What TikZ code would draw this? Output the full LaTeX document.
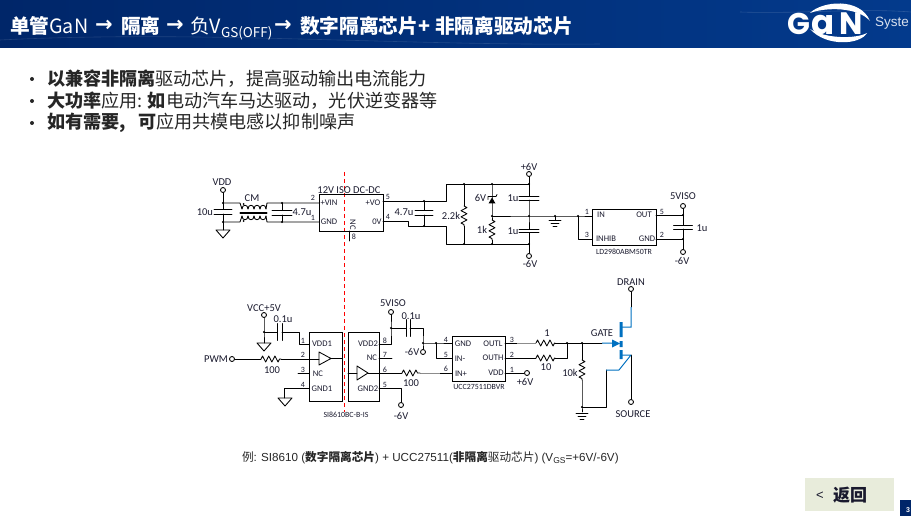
\documentclass[tikz,border=0pt]{standalone}
\usepackage{fontspec}
\setmainfont{Noto Sans CJK SC}
\newfontfamily\sch{Carlito}
\newfontfamily\ari{Liberation Sans}
\newfontfamily\popf{Poppins}
\newfontfamily\djv{DejaVu Sans}
\usetikzlibrary{decorations.pathmorphing}
\definecolor{navyA}{RGB}{0,38,105}
\definecolor{navyB}{RGB}{3,58,140}
\definecolor{gblue}{RGB}{0,112,192}
\definecolor{ink}{RGB}{25,25,45}
\definecolor{boxbg}{RGB}{232,236,219}
\newcounter{tn}
\newcommand\lb[3][]{\stepcounter{tn}\node[txt,#1] (t\arabic{tn}) at (#2) {#3};}
\newcommand\hplates[4]{\draw[w] (#1-#4,#2) -- (#1+#4,#2) (#1-#4,#3) -- (#1+#4,#3);}
\newcommand\vplates[4]{\draw[w] (#1,#3-#4) -- (#1,#3+#4) (#2,#3-#4) -- (#2,#3+#4);}
\newcommand\gndT[2]{\draw[w] (#1-7,#2) -- (#1+7,#2) -- (#1,#2+8) -- cycle;}
\newcommand\gndB[2]{\draw[w] (#1-6,#2) -- (#1+6,#2) (#1-4,#2+3) -- (#1+4,#2+3) (#1-2,#2+6) -- (#1+2,#2+6);}
\tikzset{
  x=1pt,y=-1pt,
  w/.style={line width=.85pt,black,line cap=round,line join=round},
  bw/.style={line width=1pt,gblue},
  gw/.style={line width=1pt,black!45},
  res/.style={decorate,decoration={zigzag,segment length=6.2pt,amplitude=3pt}},
  txt/.style={inner sep=0,outer sep=0,text=ink,font=\sch\fontsize{10.5}{10.5}\selectfont},
  pin/.style={txt,font=\sch\fontsize{8}{8}\selectfont},
  sm/.style={txt,font=\sch\fontsize{8.6}{8.6}\selectfont},
  term/.style={circle,draw,fill=white,inner sep=0,minimum size=5pt,line width=.85pt},
  ic/.style={draw,line width=.85pt,fill=white,inner sep=0},
  part/.style={txt,font=\sch\fontsize{7.9}{8}\selectfont},
  harrow/.style={inner sep=0,outer sep=0,anchor=west,text=white,font=\djv\bfseries\fontsize{21}{21}\selectfont},
  head/.style={inner sep=0,outer sep=0,anchor=west,text=white,font=\bfseries\fontsize{19.7}{20}\selectfont},
  bul/.style={inner sep=0,outer sep=0,anchor=west,text=black!85,font=\fontsize{18.1}{19}\selectfont},
  cap1/.style={inner sep=0,outer sep=0,anchor=west,text=black!85,font=\ari\fontsize{11.65}{12}\selectfont},
}
\begin{document}
\begin{tikzpicture}
\useasboundingbox (0,0) rectangle (911,516);
\clip (0,0) rectangle (911,516);
% header
\shade[left color=navyA,right color=navyB] (0,0) rectangle (911,48);
\draw[white,opacity=.12,line width=.6pt] (0,40) .. controls (200,30) and (400,46) .. (600,44);
\draw[white,opacity=.15,line width=.6pt] (740,12) .. controls (800,14) and (860,8) .. (911,12);
\node[head] (h1) at (10,26) {单管\mdseries GaN};
\node[harrow] (h2) at (95,26) {→};
\node[head] (h3) at (121,26) {隔离};
\node[harrow] (h4) at (166,26) {→};
\node[head] (h5) at (190,26) {\mdseries 负V};
\node[head,font=\fontsize{13.5}{13.5}\selectfont] (h6) at (221,33) {GS(OFF)};
\node[harrow] (h7) at (274,26) {→};
\node[head] (h8) at (300,26) {数字隔离芯片+};
\node[head] (h9) at (435,26) {非隔离驱动芯片};
% logo
\fill[white] (810,13) .. controls (822,1) and (860,-3) .. (870,21) .. controls (858,7) and (826,7) .. (810,13) -- cycle;
\fill[white] (810,29) .. controls (826,47) and (860,45) .. (867,33) .. controls (856,39) and (826,39) .. (810,29) -- cycle;
\node[txt,text=white,font=\popf\bfseries\fontsize{30}{30}\selectfont] (lg) at (799,24) {G};
\node[txt,text=white,font=\popf\bfseries\fontsize{34}{34}\selectfont] (la) at (823,25) {a};
\node[txt,text=white,font=\popf\bfseries\fontsize{31}{31}\selectfont] (ln) at (851,24) {N};
\node[inner sep=0,anchor=west,text=white!85!navyB,font=\ari\fontsize{13.5}{14}\selectfont] (ls) at (875,23) {Syste};
% bullets
\foreach \yy/\nm in {79/b1,101/b2,123/b3} \fill[black!85] (32,\yy) circle (2pt);
\node[bul] (l1) at (47,79) {\bfseries 以兼容非隔离\mdseries 驱动芯片，提高驱动输出电流能力};
\node[bul] (l2) at (47,101) {\bfseries 大功率\mdseries 应用: \bfseries 如\mdseries 电动汽车马达驱动，光伏逆变器等};
\node[bul] (l3) at (47,123) {\bfseries 如有需要,\ \ \ 可\mdseries 应用共模电感以抑制噪声};
% red isolation line
\draw[red,line width=1pt,dash pattern=on 4pt off 3pt] (344,172) -- (344,412);
% ---------- top: VDD, CM, DC-DC
\node[term] (vdd) at (223,190) {};
\coordinate (a1) at (223,203); \coordinate (a2) at (223,222); \coordinate (a3) at (223,230);
\coordinate (c1t) at (223,209); \coordinate (c1b) at (223,214);
\draw[w] (vdd) -- (c1t) (c1b) -- (a3);
\hplates{223}{209}{214}{9}
\gndT{223}{230}
\lb{222,182}{VDD} \lb[anchor=east]{213,212}{10u}
\lb{252,198.5}{CM}
\coordinate (cml1) at (240,203); \coordinate (cml2) at (240,222);
\coordinate (cmr1) at (267,203); \coordinate (cmr2) at (267,222);
\coordinate (p2) at (319,203); \coordinate (p1) at (319,222);
\draw[w] (a1) -- (cml1) -- (242,209);
\foreach \i in {0,1,2,3} \draw[w] (242+6*\i,209) .. controls (242+6*\i,204) and (248+6*\i,204) .. (248+6*\i,209);
\draw[w] (266,209) -- (cmr1) -- (p2);
\draw[w] (a2) -- (cml2) -- (242,216);
\foreach \i in {0,1,2,3} \draw[w] (242+6*\i,216) .. controls (242+6*\i,221) and (248+6*\i,221) .. (248+6*\i,216);
\draw[w] (266,216) -- (cmr2) -- (p1);
\draw[w] (240,212) -- (267,212) (240,213.6) -- (267,213.6);
\fill (243.5,204) circle (1pt) (243.5,221) circle (1pt);
\coordinate (c2t) at (282,203); \coordinate (c2b) at (282,222);
\draw[w] (c2t) -- (282,210) (282,215) -- (c2b);
\hplates{282}{210}{215}{10}
\lb{302,212}{4.7u}
\node[ic,minimum width=64pt,minimum height=37pt,fill=none] (dc) at (351,212.5) {};
\lb{349,190}{12V ISO DC-DC}
\lb[sm]{329,203}{+VIN} \lb[sm]{329,222}{GND} \lb[sm]{373,203}{+VO} \lb[sm]{377,222}{0V}
\lb[sm,rotate=-90]{353,225}{NC}
\lb[pin]{313,198}{2} \lb[pin]{313,218}{1} \lb[pin]{388,197}{5} \lb[pin]{388,217}{4} \lb[pin]{354,237}{8}
\coordinate (p8a) at (349,231); \coordinate (p8b) at (349,241);
\draw[w] (p8a) -- (p8b);
% DC-DC outputs
\coordinate (o5) at (383,201); \coordinate (o4) at (383,221);
\coordinate (c3t) at (424,201); \coordinate (c3b) at (424,226);
\coordinate (rt0) at (446,201); \coordinate (rb0) at (446,226);
\coordinate (rt) at (446,184); \coordinate (rb) at (446,244);
\coordinate (tp) at (529,184); \coordinate (bt) at (529,244);
\draw[w] (o5) -- (rt0) -- (rt) -- (tp);
\draw[w] (o4) -- (408,221) -- (408,226) -- (rb0) -- (rb) -- (bt);
\draw[w] (c3t) -- (424,210) (424,215) -- (c3b);
\hplates{424}{210}{215}{9}
\lb{404,212}{4.7u}
% 2.2k
\coordinate (r22t) at (464,184); \coordinate (r22a) at (464,206); \coordinate (r22b) at (464,226); \coordinate (r22c) at (464,244);
\draw[w] (r22t) -- (r22a) (r22b) -- (r22c);
\draw[w,res] (r22a) -- (r22b);
\lb{451,216}{2.2k}
% zener + 1k
\coordinate (zt) at (492,184); \coordinate (zm) at (492,216); \coordinate (zb) at (492,244);
\coordinate (r1a) at (492,220); \coordinate (r1b) at (492,240);
\draw[w] (zt) -- (zm) -- (r1a) (r1b) -- (zb);
\draw[w,res] (r1a) -- (r1b);
\fill (488.5,203.5) -- (495.5,203.5) -- (492,197.5) -- cycle;
\draw[w] (488,199.5) -- (488,196.5) -- (496,196.5) -- (497,194.5);
\lb{480.5,198}{6V} \lb{482,230}{1k}
% rails
\node[term] (p6) at (529,174) {}; \node[term] (m6) at (529,256) {};
\coordinate (mid) at (529,216);
\draw[w] (p6) -- (529,196) (529,200) -- (mid) -- (529,229) (529,232.5) -- (m6);
\hplates{529}{196}{200}{10}
\hplates{529}{229}{232.5}{10}
\lb{529,166.5}{+6V} \lb{530,264}{-6V} \lb{513,198}{1u} \lb{513,231}{1u}
% LDO
\coordinate (gj) at (555,216); \coordinate (gs) at (555,220); \coordinate (inj) at (578,216);
\coordinate (in1) at (592,216); \coordinate (in3a) at (578,239); \coordinate (in3) at (592,239);
\draw[w] (zm) -- (mid) -- (gj) -- (inj) -- (in1) (inj) -- (in3a) -- (in3) (gj) -- (gs);
\gndB{555}{220}
\node[ic,minimum width=64pt,minimum height=36pt,fill=none] (ldo) at (624,227) {};
\lb[sm]{601,215}{IN} \lb[sm]{606,239}{INHIB} \lb[sm]{644,215}{OUT} \lb[sm]{647,239}{GND}
\lb[pin]{587,212}{1} \lb[pin]{587,235}{3} \lb[pin]{662,212}{5} \lb[pin]{662,235}{2}
\lb[part]{624,252}{LD2980ABM50TR}
\node[term] (v5a) at (683,206) {}; \node[term] (m6b) at (683,252) {};
\coordinate (o5b) at (656,215); \coordinate (o2b) at (656,239); \coordinate (jr1) at (683,215); \coordinate (jr2) at (683,239);
\draw[w] (o5b) -- (jr1) (o2b) -- (jr2);
\draw[w] (v5a) -- (683,225) (683,229) -- (m6b);
\hplates{683}{225}{229}{9.5}
\lb{683,196}{5VISO} \lb{702,228}{1u} \lb{682,261}{-6V}
% ---------- bottom: SI8610
\node[ic,minimum width=33pt,minimum height=69pt,fill=none] (s1) at (325.5,366.5) {};
\node[ic,minimum width=31pt,minimum height=69pt,fill=none] (s2) at (363.5,366.5) {};
\node[term] (vcc) at (264,315) {};
\coordinate (vj) at (264,332); \coordinate (vg) at (264,343);
\coordinate (cxl) at (277,332); \coordinate (cxr) at (282,332); \coordinate (vw) at (299,332); \coordinate (vw2) at (299,344); \coordinate (vp) at (309,344);
\draw[w] (vcc) -- (vj) -- (vg) (vj) -- (cxl) (cxr) -- (vw) -- (vw2) -- (vp);
\vplates{277}{282}{332}{8.5}
\gndT{264}{343}
\lb{264,308}{VCC+5V} \lb{283,319}{0.1u}
\node[term] (pwm) at (232,359) {};
\coordinate (pr1) at (261,359); \coordinate (pr2) at (281,359); \coordinate (bi) at (319,359);
\draw[w] (pwm) -- (pr1) (pr2) -- (bi);
\draw[w,res] (pr1) -- (pr2);
\lb{216,359}{PWM} \lb{272,370}{100}
\draw[w] (319,352) -- (331,358.5) -- (319,365) -- cycle;
\coordinate (bo) at (331,358.5); \coordinate (bo2) at (342,358.5);
\draw[w] (bo) -- (bo2);
\coordinate (n3a) at (298,373); \coordinate (n3b) at (309,373); \draw[w] (n3a) -- (n3b);
\coordinate (g4) at (309,388); \coordinate (g4a) at (284,388); \coordinate (g4b) at (284,398);
\draw[w] (g4) -- (g4a) -- (g4b);
\gndT{285}{398}
\lb[sm]{322,344}{VDD1} \lb[sm]{318,374}{NC} \lb[sm]{322,389}{GND1}
\lb[sm]{368,344}{VDD2} \lb[sm]{372,358}{NC} \lb[sm]{368,389}{GND2}
\lb[pin]{303,341}{1} \lb[pin]{303,355}{2} \lb[pin]{303,370}{3} \lb[pin]{303,385}{4}
\lb[pin]{385,341}{8} \lb[pin]{385,355}{7} \lb[pin]{385,370}{6} \lb[pin]{385,385}{5}
\lb[part]{346,415}{SI8610BC-B-IS}
% buffer 2
\coordinate (b2i) at (348,373); \coordinate (b2o) at (368,373);
\draw[w] (b2i) -- (357,373);
\draw[w] (357,366) -- (368,373) -- (357,380) -- cycle;
\coordinate (r6a) at (402,373); \coordinate (r6b) at (420,373); \coordinate (r6c) at (440,373); \coordinate (in6) at (452,373);
\draw[w] (b2o) -- (r6a) (r6c) -- (in6);
\draw[gw] (r6b) -- (r6c);
\draw[w,res] (r6a) -- (r6b);
\lb{411,383}{100}
% pin 8
\node[term] (v5b) at (391,312) {};
\coordinate (p8i) at (379,344); \coordinate (p8j) at (391,344); \coordinate (cj) at (391,328);
\coordinate (cyl) at (406,328); \coordinate (cyr) at (410,328); \coordinate (cyw) at (423,328); \coordinate (cyj) at (423,343);
\node[term] (m6c) at (423,352) {};
\coordinate (g45) at (436,343); \coordinate (g5a) at (436,358); \coordinate (g5) at (452,358); \coordinate (g4i) at (452,343);
\draw[w] (p8i) -- (p8j) -- (cj) -- (v5b) (cj) -- (cyl) (cyr) -- (cyw) -- (cyj) -- (m6c) (cyj) -- (g45) -- (g4i) (g45) -- (g5a) -- (g5);
\vplates{406}{410}{328}{8.5}
\lb{393,303}{5VISO} \lb{411,316}{0.1u} \lb{412,352}{-6V}
\coordinate (n7a) at (379,358); \coordinate (n7b) at (392,358); \draw[w] (n7a) -- (n7b);
\node[term] (m6d) at (401,405) {};
\coordinate (g2a) at (379,388); \coordinate (g2b) at (401,388);
\draw[w] (g2a) -- (g2b) -- (m6d);
\lb{401,416}{-6V}
% UCC27511
\node[ic,minimum width=53pt,minimum height=45pt,fill=none] (ucc) at (478.5,358.5) {};
\lb[sm]{463,344}{GND} \lb[sm]{460,359}{IN-} \lb[sm]{461,374}{IN+} \lb[sm]{493,344}{OUTL} \lb[sm]{493,358}{OUTH} \lb[sm]{496,373}{VDD}
\lb[pin]{446,340}{4} \lb[pin]{446,355}{5} \lb[pin]{446,369}{6} \lb[pin]{512,340}{3} \lb[pin]{512,355}{2} \lb[pin]{512,370}{1}
\lb[part]{479,387}{UCC27511DBVR}
\coordinate (ol) at (505,343); \coordinate (olg) at (517,343); \coordinate (r7a) at (536,343); \coordinate (r7b) at (555,343); \coordinate (mj) at (567,343); \coordinate (gj2) at (582,343); \coordinate (gb) at (602,343); \coordinate (gt) at (613,343);
\coordinate (oh) at (505,358); \coordinate (r8a) at (536,358); \coordinate (r8b) at (555,358); \coordinate (mj2) at (567,358);
\draw[w] (ol) -- (olg) (r7b) -- (gb) (oh) -- (r8a) (r8b) -- (mj2) -- (mj);
\draw[gw] (olg) -- (r7a);
\draw[w,res] (r7a) -- (r7b);
\draw[w,res] (r8a) -- (r8b);
\lb{547,333}{1} \lb{546,367}{10}
\node[term] (p6b) at (527,373) {};
\coordinate (o1) at (505,373); \draw[w] (o1) -- (p6b);
\lb{525,382}{+6V}
\coordinate (r10a) at (582,360); \coordinate (r10b) at (582,380); \coordinate (sj) at (582,407); \coordinate (sg) at (582,412); \coordinate (sw) at (606,407); \coordinate (swt) at (606,370);
\draw[w] (gj2) -- (r10a) (r10b) -- (sj) -- (sg) (sj) -- (sw) -- (swt);
\draw[w,res] (r10a) -- (r10b);
\lb{570,373}{10k}
\gndB{582}{413}
% FET
\node[term] (dr) at (631,289) {}; \node[term] (so) at (631,402) {};
\coordinate (dk) at (631,307); \coordinate (db) at (631,327); \coordinate (dc2) at (621,327);
\coordinate (sb) at (631,355); \coordinate (sc) at (621,355); \coordinate (dg) at (619,370);
\draw[w] (dr) -- (dk) (sb) -- (so);
\draw[bw] (dk) -- (db) -- (dc2) (sb) -- (sc) (swt) -- (dg) -- (sb) (gb) -- (gt);
\fill[gblue] (612,339.5) -- (620,343.5) -- (612,347.5) -- cycle;
\fill[gblue] (619.5,322) rectangle (622.5,337) (619.5,341) rectangle (622.5,347) (619.5,350) rectangle (622.5,359);
\lb{602,333}{GATE} \lb{631,282}{DRAIN} \lb{633,414}{SOURCE}
% junctions
\foreach \c in {a1,a2,c2t,c2b,c3t,c3b,r22t,r22c,zt,zm,zb,tp,bt,mid,gj,inj,jr1,jr2,vj,cj,cyj,g45,mj,gj2,sj}
  \fill (\c) circle (1.15pt);
% caption
\node[cap1] (cp) at (242,458) {{\rmfamily 例}: SI8610 ({\rmfamily\bfseries 数字隔离芯片}) + UCC27511({\rmfamily\bfseries 非隔离}{\rmfamily 驱动芯片}) (V\raisebox{-2pt}{\fontsize{8.5}{8.5}\selectfont GS}=+6V/-6V)};
% back button
\node[fill=boxbg,minimum width=89pt,minimum height=33pt,inner sep=0] (bk) at (849.5,494.5) {};
\node[inner sep=0,text=ink,font=\ari\fontsize{13}{13}\selectfont] (bk1) at (820,496) {<};
\node[inner sep=0,anchor=west,text=ink,font=\bfseries\fontsize{17}{17}\selectfont] (bk2) at (833,495) {返回};
\fill[navyA] (900,500) rectangle (911,516);
\node[inner sep=0,text=white,font=\ari\bfseries\fontsize{7}{7}\selectfont] (pg) at (908,510) {3};
\end{tikzpicture}
\end{document}
